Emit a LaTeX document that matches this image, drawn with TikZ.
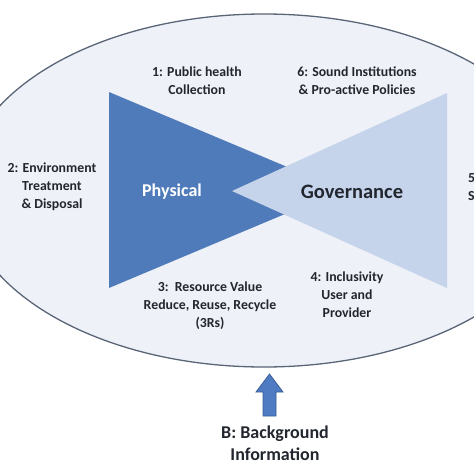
\documentclass[tikz,border=0pt]{standalone}
\usepackage{fontspec}
\setmainfont{Carlito}
\definecolor{ellfill}{HTML}{EEF1F7}
\definecolor{ellline}{HTML}{5A6577}
\definecolor{darkblue}{HTML}{4F7BBA}
\definecolor{lightblue}{HTML}{C6D4EB}
\definecolor{txt}{HTML}{22262E}
\definecolor{arrowfill}{HTML}{4F7BC2}
\definecolor{arrowline}{HTML}{3A5E96}
\begin{document}
\begin{tikzpicture}[x=1pt,y=-1pt,
  lbl/.style={font=\bfseries\fontsize{13.8}{18}\selectfont, text=txt, align=center, inner sep=0pt},
  physstyle/.style={font=\bfseries\fontsize{18}{20}\selectfont, inner sep=0pt},
  govstyle/.style={font=\bfseries\fontsize{20.5}{22}\selectfont, inner sep=0pt},
  bottomlbl/.style={font=\bfseries\fontsize{18}{22}\selectfont, text=txt, align=center, inner sep=0pt}]
\useasboundingbox (0,0) rectangle (474,474);
\clip (0,0) rectangle (474,474);
\fill[white] (0,0) rectangle (474,474);
% outer ellipse
\filldraw[fill=ellfill, draw=ellline, line width=1.3pt] (264,190.5) ellipse [x radius=301, y radius=176.5];
% bow tie
\fill[darkblue] (109,92) -- (109,288) -- (342,190) -- cycle;
\fill[lightblue] (232,191) -- (447,93) -- (447,288) -- cycle;
\node[physstyle, text=white] (phys) at (172,192) {Physical};
\node[govstyle, text=txt] (gov) at (352,192) {Governance};
% labels
\node[lbl] (l1) at (197,81) {1: Public health\\Collection};
\node[lbl] (l6) at (357,81) {6: Sound Institutions\\\& Pro-active Policies};
\node[lbl] (l2) at (52,187) {2: Environment\\Treatment\\\& Disposal};
\node[lbl] (l3) at (210,306) {3:\ \ Resource Value\\Reduce, Reuse, Recycle\\(3Rs)};
\node[lbl] (l4) at (347,295) {4: Inclusivity\\User and\\Provider};
\node[lbl, align=left, anchor=west] (l5) at (468,187) {5\\S};
% arrow
\filldraw[fill=arrowfill, draw=arrowline, line width=0.8pt]
  (263,416) -- (263,392) -- (256,392) -- (269.5,374) -- (283,392) -- (276,392) -- (276,416) -- cycle;
\coordinate (arrowbase) at (269.5,416);
\node[bottomlbl] (bg) at (275,443) {B: Background\\Information};
\end{tikzpicture}
\end{document}
